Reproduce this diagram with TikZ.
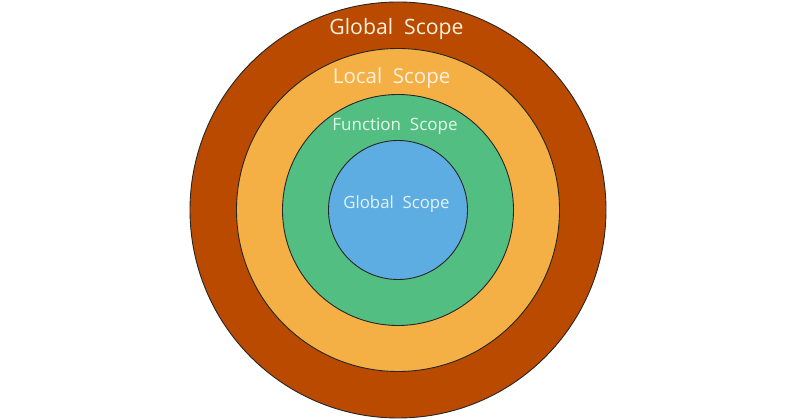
\documentclass[tikz,border=0pt]{standalone}
\usepackage{fontspec}
\setmainfont{Open Sans}
\usepackage{tikz}
\usetikzlibrary{positioning, calc}
\definecolor{rustbrown}{RGB}{185,74,0}
\definecolor{pastelorange}{RGB}{244,176,68}
\definecolor{pastelgreen}{RGB}{82,190,130}
\definecolor{pastelblue}{RGB}{93,172,226}
\definecolor{creamtext}{RGB}{255,241,222}
\definecolor{mintext}{RGB}{228,250,236}
\definecolor{icetext}{RGB}{226,244,255}

\begin{document}
\begin{tikzpicture}[x=1pt, y=1pt,
	ring/.style={circle, draw=black!85, line width=0.9pt, inner sep=0pt, outer sep=0pt},
	lbl/.style={anchor=base, inner sep=0pt, font=\fontsize{#1}{#1}\selectfont}]
	\useasboundingbox (0,0) rectangle (800,420);
	\pgfmathsetmacro{\cx}{398}
	\pgfmathsetmacro{\cy}{210}
	\node[ring, fill=rustbrown, minimum size=416] (globalring) at (\cx,\cy) {};
	\node[ring, fill=pastelorange, minimum size=323] (localring) at (\cx,\cy) {};
	\node[ring, fill=pastelgreen, minimum size=231] (funcring) at (\cx,\cy) {};
	\node[ring, fill=pastelblue, minimum size=139] (innerring) at (\cx,\cy) {};
	
	\node[lbl=21.2, text=creamtext] (globaltxt) at ([xshift=-1.5, yshift=-32.3]globalring.north) {Global\ \ Scope};
	\node[lbl=20.5, text=creamtext] (localtxt) at ([xshift=-6.3, yshift=-35.5]localring.north) {Local\ \ Scope};
	\node[lbl=17, text=mintext] (functxt) at ([xshift=-3, yshift=-36.2]funcring.north) {Function\ \ Scope};
	\node[lbl=16.8, text=icetext] (innertxt) at ([xshift=-1.5, yshift=-68.3]innerring.north) {Global\ \ Scope};
\end{tikzpicture}
\end{document}
